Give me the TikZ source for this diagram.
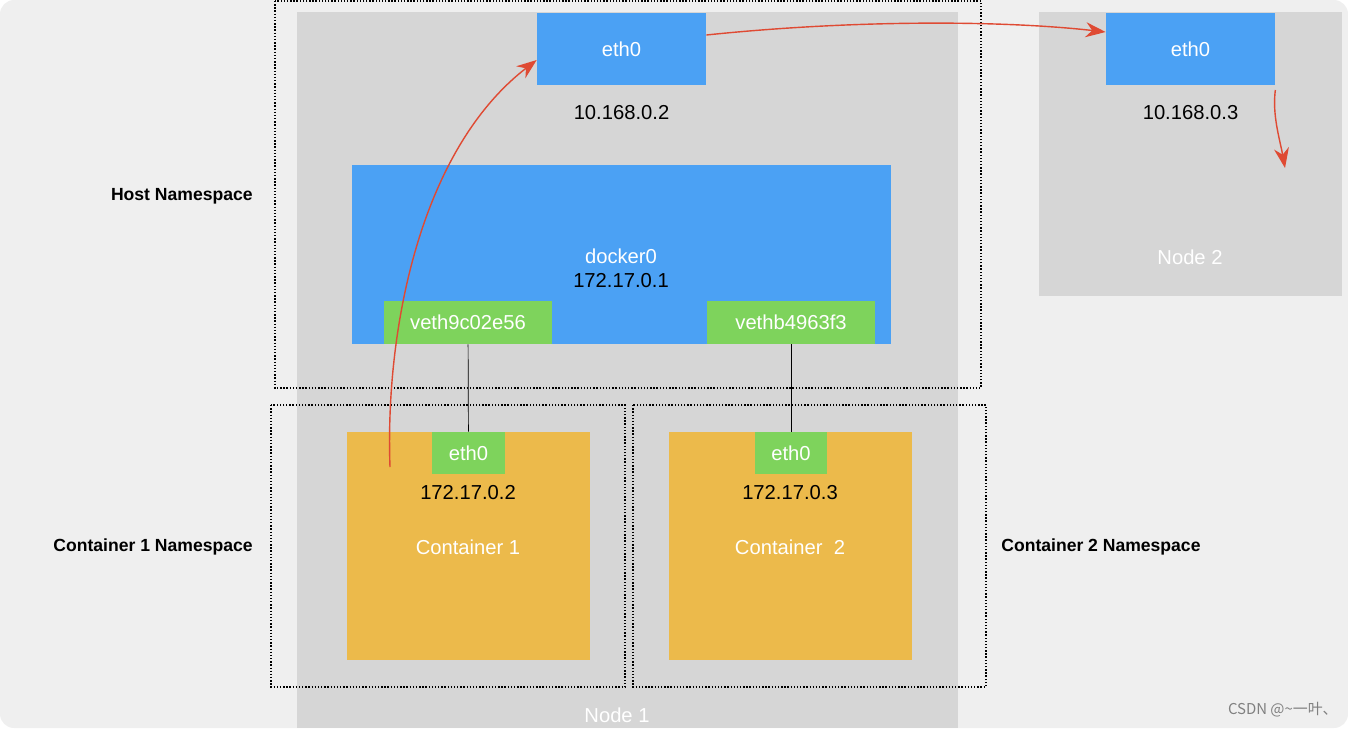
\documentclass[tikz,border=0pt]{standalone}
\usepackage{fontspec}
\setmainfont{Liberation Sans}
\newfontfamily\cjk{Noto Sans CJK SC}
\usetikzlibrary{positioning, arrows.meta}
\definecolor{bggray}{HTML}{EFEFEF}
\definecolor{nodegray}{HTML}{D6D6D6}
\definecolor{ifblue}{HTML}{4BA1F4}
\definecolor{vethgreen}{HTML}{7ED35C}
\definecolor{boxyellow}{HTML}{ECBA4B}
\definecolor{arrowred}{HTML}{DF4A33}
\tikzstyle{host} = [rectangle, fill = nodegray, draw = none]
\tikzstyle{ns} = [rectangle, draw = black, densely dotted, thick]
\tikzstyle{iface} = [rectangle, fill = ifblue, text = white, text centered]
\tikzstyle{veth} = [rectangle, fill = vethgreen, text = white, text centered]
\tikzstyle{box} = [rectangle, fill = boxyellow, text = white, text centered]
\tikzstyle{lbl} = [font = \bfseries]
\tikzstyle{arrow} = [thick, arrowred, -{Stealth[length=4mm, width=3mm]}]
\begin{document}
\begin{tikzpicture}[x = 0.02cm, y = -0.02cm, font = \fontsize{11.5}{13}\selectfont, inner sep = 0pt]
    \useasboundingbox (0,0) rectangle (1348,728);
    % background and hosts
    \fill[bggray, rounded corners = 8pt] (0,0) rectangle (1348,728);
    \fill[host] (297,12) rectangle (958,728);
    \fill[host] (1039,12) rectangle (1342,296);
    \node(n1lbl)[text = white] at (617,715) {Node 1};
    \node(n2lbl)[text = white] at (1190,257) {Node 2};

    % namespaces
    \draw[ns] (275,1) rectangle (981,388);
    \draw[ns] (271,405) rectangle (625,687);
    \draw[ns] (633,405) rectangle (986,687);

    % node 1 interfaces
    \node(eth1)[iface, minimum width = 3.38cm, minimum height = 1.44cm] at (621.5,49) {eth0};
    \node(ip1)[below = 0.4cm of eth1] {10.168.0.2};
    \node(docker)[iface, minimum width = 10.78cm, minimum height = 3.58cm] at (621.5,254.5) {};
    \node(dname)[text = white] at (621,256) {docker0};
    \node(dip) at (621,281) {172.17.0.1};
    \node(veth1)[veth, minimum width = 3.36cm, minimum height = 0.86cm] at (468,322.5) {veth9c02e56};
    \node(veth2)[veth, minimum width = 3.36cm, minimum height = 0.86cm] at (791,322.5) {vethb4963f3};

    % node 2
    \node(eth2)[iface, minimum width = 3.38cm, minimum height = 1.44cm] at (1190.5,49) {eth0};
    \node(ip2)[below = 0.4cm of eth2] {10.168.0.3};
    \coordinate(out2) at (1285,168);

    % containers
    \node(c1)[box, minimum width = 4.86cm, minimum height = 4.56cm] at (468.5,546) {};
    \node(c1name)[text = white] at (468,547) {Container 1};
    \node(c1eth)[veth, minimum width = 1.46cm, minimum height = 0.84cm] at (468.5,453) {eth0};
    \node(c1ip) at (468,493) {172.17.0.2};
    \node(c2)[box, minimum width = 4.86cm, minimum height = 4.56cm] at (790.5,546) {};
    \node(c2name)[text = white] at (790,547) {Container\ \ 2};
    \node(c2eth)[veth, minimum width = 1.44cm, minimum height = 0.84cm] at (791,453) {eth0};
    \node(c2ip) at (790,493) {172.17.0.3};
    \coordinate(c1start) at (390,467);

    % labels
    \node(hostns)[lbl, anchor = east] at (253,196) {Host Namespace};
    \node(c1ns)[lbl, anchor = east] at (253,547) {Container 1 Namespace};
    \node(c2ns)[lbl, anchor = west] at (1001,547) {Container 2 Namespace};
    \node(mark)[text = gray, anchor = east, font = \fontsize{8.5}{10}\cjk] at (1338,710) {CSDN @\textasciitilde 一叶、};

    % links
    \draw[thin] (veth1)--(c1eth);
    \draw[thin] (veth2)--(c2eth);
    \draw[arrow] (c1start) .. controls (385,330) and (420,150) .. (eth1.south west |- 0,60);
    \draw[arrow] (eth1.north east |- 0,35) .. controls (850,20) and (1000,20) .. (eth2.west |- 0,32);
    \draw[arrow] (eth2.south east |- 1265,90) .. controls (1272,115) and (1280,140) .. (out2);
\end{tikzpicture}
\end{document}
